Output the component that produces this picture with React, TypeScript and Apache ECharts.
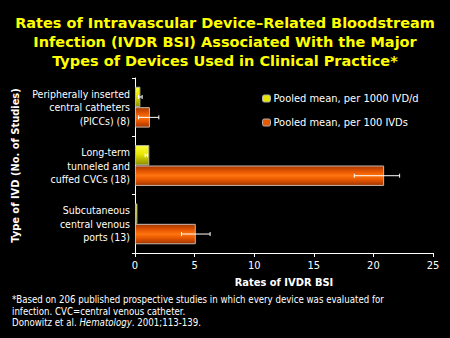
import React, { useEffect, useRef } from "react";
import * as echarts from "echarts";

const categories = [
  "Peripherally inserted\ncentral catheters\n(PICCs) (8)",
  "Long-term\ntunneled and\ncuffed CVCs (18)",
  "Subcutaneous\ncentral venous\nports (13)",
];
const seriesNames = ["Pooled mean, per 1000 IVD/d", "Pooled mean, per 100 IVDs"];
const perDeviceDay = [0.45, 1.2, 0.2];
const perDevice = [1.25, 20.9, 5.1];
const perDeviceDayErr = [
  [0.3, 0.6],
  [0.85, 1.05],
  null,
];
const perDeviceErr = [
  [0.3, 2.0],
  [18.4, 22.2],
  [3.9, 6.3],
];
const xTicks = [0, 5, 10, 15, 20, 25];

const FONT = "'DejaVu Sans Condensed', 'Liberation Sans', sans-serif";

function errData(errs: (number[] | null)[]) {
  const out: number[][] = [];
  errs.forEach((e, i) => {
    if (e) out.push([i, e[0], e[1]]);
  });
  return out;
}

function makeErrRender(sign: number) {
  return (params: any, api: any) => {
    const cat = api.value(0);
    const lo = api.coord([api.value(1), cat]);
    const hi = api.coord([api.value(2), cat]);
    const band = api.size([0, 1])[1];
    const y = lo[1] + sign * band * 0.175;
    const cap = 2;
    const style = { stroke: "#ffffff", lineWidth: 1 };
    return {
      type: "group",
      children: [
        { type: "line", shape: { x1: lo[0], y1: y, x2: hi[0], y2: y }, style },
        { type: "line", shape: { x1: lo[0], y1: y - cap, x2: lo[0], y2: y + cap }, style },
        { type: "line", shape: { x1: hi[0], y1: y - cap, x2: hi[0], y2: y + cap }, style },
      ],
    };
  };
}

export default function App() {
  const ref = useRef<HTMLDivElement>(null);
  useEffect(() => {
    if (!ref.current) return;
    document.body.style.margin = "0";
    document.body.style.background = "#000";
    const chart = echarts.init(ref.current, null, { renderer: "svg" });
    const yellowGrad = new echarts.graphic.LinearGradient(0, 0, 0, 1, [
      { offset: 0, color: "#ffff40" },
      { offset: 0.45, color: "#e6e600" },
      { offset: 1, color: "#8c8c00" },
    ]);
    const orangeGrad = new echarts.graphic.LinearGradient(0, 0, 0, 1, [
      { offset: 0, color: "#a83800" },
      { offset: 0.3, color: "#e85800" },
      { offset: 0.5, color: "#ff7410" },
      { offset: 0.7, color: "#e85800" },
      { offset: 1, color: "#a03400" },
    ]);
    chart.setOption({
      animation: false,
      backgroundColor: "#000000",
      title: {
        text: "Rates of Intravascular Device\u2013Related Bloodstream\nInfection (IVDR BSI) Associated With the Major\nTypes of Devices Used in Clinical Practice*",
        left: "center",
        top: 8,
        textStyle: {
          color: "#ffff00",
          fontFamily: "'DejaVu Sans', sans-serif",
          fontWeight: "bold",
          fontSize: 14.5,
          lineHeight: 19,
          align: "center",
        },
      },
      legend: {
        orient: "vertical",
        left: 257,
        top: 88,
        itemGap: 13,
        itemWidth: 8,
        itemHeight: 7,
        data: [
          { name: seriesNames[0], itemStyle: { color: "#e6e600", borderColor: "#b0b0b0", borderWidth: 1 } },
          { name: seriesNames[1], itemStyle: { color: "#e85800", borderColor: "#b0b0b0", borderWidth: 1 } },
        ],
        textStyle: { color: "#ffffff", fontSize: 11, fontFamily: FONT, padding: [0, 0, 0, -2] },
      },
      grid: { left: 135, right: 17, top: 78, bottom: 85, containLabel: false },
      xAxis: {
        type: "value",
        min: 0,
        max: 25,
        interval: 5,
        name: "Rates of IVDR BSI",
        nameLocation: "middle",
        nameGap: 24,
        nameTextStyle: { color: "#ffffff", fontWeight: "bold", fontSize: 11, fontFamily: FONT },
        axisLine: { show: true, lineStyle: { color: "#ffffff", width: 1 } },
        axisTick: { show: true, length: 4, lineStyle: { color: "#ffffff" } },
        axisLabel: {
          color: "#ffffff",
          fontSize: 11,
          fontFamily: FONT,
          margin: 7,
          formatter: (v: number) => (xTicks.includes(v) ? String(v) : ""),
        },
        splitLine: { show: false },
      },
      yAxis: {
        type: "category",
        inverse: true,
        data: categories,
        name: "Type of IVD (No. of Studies)",
        nameLocation: "middle",
        nameGap: 114,
        nameRotate: 90,
        nameTextStyle: { color: "#ffffff", fontWeight: "bold", fontSize: 11, fontFamily: FONT },
        axisLine: { show: true, lineStyle: { color: "#ffffff", width: 1 } },
        axisTick: { show: true, length: 3, lineStyle: { color: "#ffffff" } },
        axisLabel: {
          color: "#ffffff",
          fontSize: 10.5,
          lineHeight: 13.5,
          fontFamily: FONT,
          margin: 5,
          align: "right",
        },
      },
      series: [
        {
          name: seriesNames[0],
          type: "bar",
          data: perDeviceDay,
          barGap: "0%",
          barCategoryGap: "30%",
          itemStyle: { color: yellowGrad, borderColor: "#b8b8a0", borderWidth: 1 },
        },
        {
          name: seriesNames[1],
          type: "bar",
          data: perDevice,
          barGap: "0%",
          barCategoryGap: "30%",
          itemStyle: { color: orangeGrad, borderColor: "#c8b8a8", borderWidth: 1 },
        },
        {
          type: "custom",
          data: errData(perDeviceDayErr),
          encode: { x: [1, 2], y: 0 },
          renderItem: makeErrRender(-1),
          z: 5,
          silent: true,
        },
        {
          type: "custom",
          data: errData(perDeviceErr),
          encode: { x: [1, 2], y: 0 },
          renderItem: makeErrRender(1),
          z: 5,
          silent: true,
        },
      ],
      graphic: [
        {
          type: "text",
          left: 12,
          top: 294,
          style: {
            text:
              "*Based on 206 published prospective studies in which every device was evaluated for\ninfection. CVC=central venous catheter.\nDonowitz et al. {i|Hematology}. 2001;113-139.",
            fill: "#ffffff",
            fontSize: 9.6,
            lineHeight: 11.5,
            fontFamily: FONT,
            rich: {
              i: { fontStyle: "italic", fontSize: 9.6, fill: "#ffffff", fontFamily: FONT, lineHeight: 11.5 },
            },
          },
        },
      ],
    });
    return () => chart.dispose();
  }, []);
  return (
    <div
      ref={ref}
      style={{ position: "fixed", left: 0, top: 0, width: 450, height: 338 }}
    />
  );
}
